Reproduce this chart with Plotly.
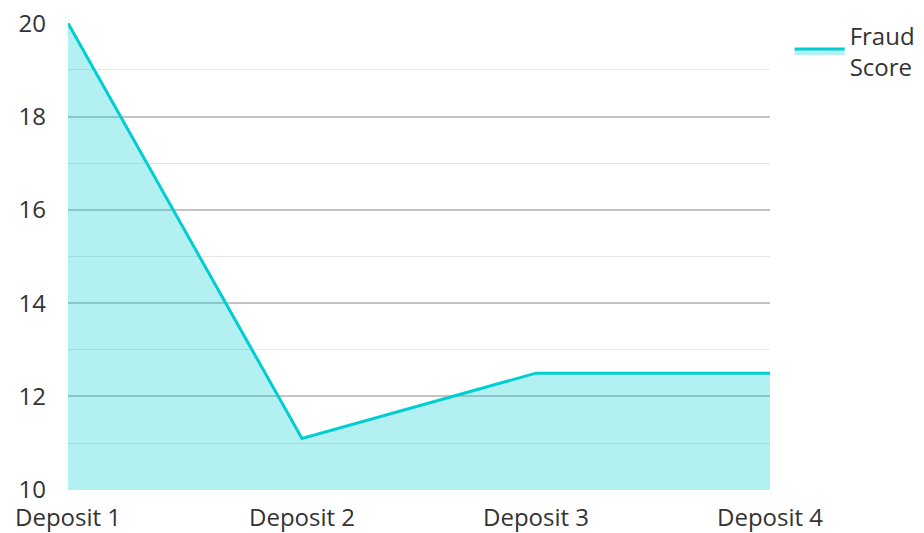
import plotly.graph_objects as go

categories = ["Deposit 1", "Deposit 2", "Deposit 3", "Deposit 4"]
fraud_score = [20, 11.1, 12.5, 12.5]
series_name = "Fraud<br>Score"

font_family = "Open Sans, Noto Sans, sans-serif"

fig = go.Figure()
fig.add_trace(go.Scatter(
    x=categories, y=fraud_score, name=series_name, mode="lines",
    line=dict(color="#00CED1", width=3),
    fill="tozeroy", fillcolor="rgba(0,206,209,0.3)",
))

fig.update_layout(
    width=916, height=525,
    margin=dict(l=60, r=154, t=15, b=43, autoexpand=False),
    paper_bgcolor="white", plot_bgcolor="white",
    font=dict(family=font_family, size=24, color="#333333"),
    showlegend=True,
    legend=dict(x=1.028, y=1.021, xanchor="left", yanchor="top",
                font=dict(size=24, color="#333333"), itemwidth=50,
                bgcolor="rgba(0,0,0,0)"),
    xaxis=dict(range=[0, 3], showgrid=False, zeroline=False, showline=False,
               ticks="", tickfont=dict(size=24), ticklabelstandoff=11,
               automargin=False, ticklabeloverflow="allow"),
    yaxis=dict(range=[9.996, 20.004], dtick=2, tick0=10, showgrid=True,
               gridcolor="#c4c4c4", gridwidth=1.5, zeroline=False, showline=False,
               ticks="", tickfont=dict(size=24), ticklabelstandoff=21,
               automargin=False, ticklabeloverflow="allow",
               minor=dict(dtick=1, tick0=10, showgrid=True, gridcolor="#e4e4e4", gridwidth=1.2)),
)

fig.write_html("out.html")
